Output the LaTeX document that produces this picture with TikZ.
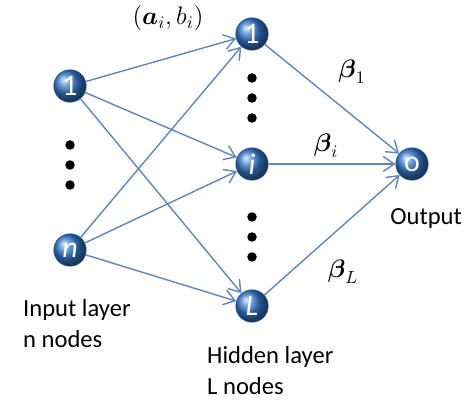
\documentclass[tikz,border=0pt]{standalone}
\usepackage{amsmath}
\usepackage{amssymb}
\usepackage{fontspec}
\setmainfont{Carlito}
\usepackage{tikz}
\usepackage{xcolor}
\usetikzlibrary{arrows.meta}

\definecolor{edgeblue}{RGB}{96,134,190}
\definecolor{ballblue}{RGB}{52,122,205}

\begin{document}
\begin{tikzpicture}[x=0.02cm,y=-0.02cm,
  neuron/.style={circle,minimum size=0.65cm,inner sep=0pt,ball color=ballblue,
    draw=ballblue!75!black,line width=0.3pt,text=white,font=\fontsize{17}{17}\selectfont},
  conn/.style={draw=edgeblue,line width=0.8pt,-{Straight Barb[length=2.2mm,width=3mm]}},
  dot/.style={circle,fill=black,inner sep=0pt,minimum size=0.19cm},
  lbl/.style={font=\fontsize{14}{17.5}\selectfont,align=left}]
\useasboundingbox (0,0) rectangle (474,402);

\node[neuron] (in1) at (70,86) {1};
\node[neuron] (inn) at (70,250) {\itshape n};
\node[neuron] (h1) at (252,34) {1};
\node[neuron] (hi) at (252,164) {\itshape i};
\node[neuron] (hL) at (252,306) {\itshape L};
\node[neuron] (out) at (412,164) {o};

\foreach \y in {145,165,185} \node[dot] at (70,\y) {};
\foreach \y in {78,98,118} \node[dot] at (252,\y) {};
\foreach \y in {217,237,257} \node[dot] at (252,\y) {};

\foreach \a in {in1,inn} {
  \foreach \b in {h1,hi,hL} \draw[conn] (\a) -- (\b);
}
\foreach \b in {h1,hi,hL} \draw[conn] (\b) -- (out);

\node[lbl] (ab) at (168,18) {$(\boldsymbol{a}_i, b_i)$};
\node[lbl] (b1) at (352,72) {$\boldsymbol{\beta}_1$};
\node[lbl] (bi) at (326,146) {$\boldsymbol{\beta}_i$};
\node[lbl] (bL) at (343,272) {$\boldsymbol{\beta}_L$};
\node[lbl,anchor=west,inner sep=0pt] (outlbl) at (390,219) {Output};
\node[lbl,anchor=north west] (inlbl) at (17,293) {Input layer\\n nodes};
\node[lbl,anchor=north west] (hidlbl) at (201,340) {Hidden layer\\L nodes};
\end{tikzpicture}
\end{document}
